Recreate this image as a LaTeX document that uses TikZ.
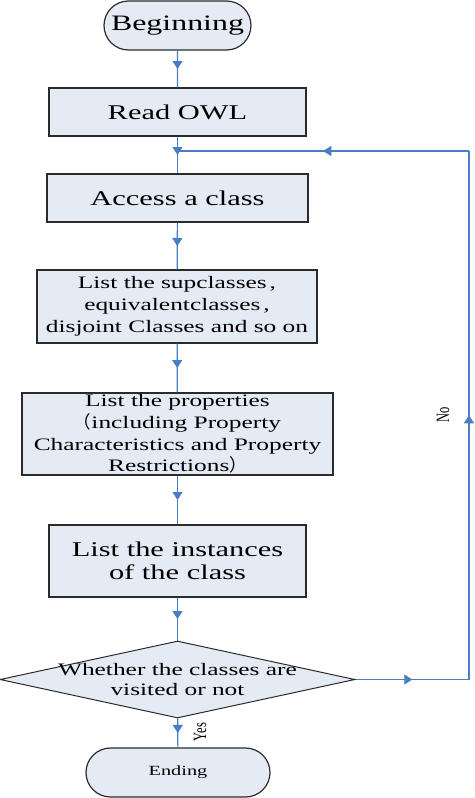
\documentclass[tikz,border=0pt]{standalone}
\usepackage{graphicx}
\usepackage{fontspec}
\setmainfont{Liberation Serif}[FakeStretch=1.45]
\newfontfamily\plainserif{Liberation Serif}
\newfontfamily\cjk{Noto Sans CJK SC}
\usetikzlibrary{shapes.geometric,shapes.misc,arrows.meta,decorations.markings}
\definecolor{boxfill}{HTML}{E4EBF5}
\definecolor{linkblue}{HTML}{4A7EC2}
\definecolor{edgegray}{HTML}{2B2B2B}
\newcommand{\vlabel}[1]{\scalebox{1.5}[1]{\rotatebox{90}{\plainserif\fontsize{12.5}{14}\selectfont #1}}}
\begin{document}
\begin{tikzpicture}[x=1pt,y=-1pt,
  procbox/.style={rectangle,draw=edgegray,fill=boxfill,line width=1.2pt,inner sep=0pt,align=center},
  termbox/.style={rounded rectangle,draw=edgegray,fill=boxfill,line width=1.2pt,inner sep=0pt},
  decbox/.style={diamond,draw=edgegray,fill=boxfill,line width=1pt,inner sep=0pt},
  link/.style={draw=linkblue,line width=1.2pt,line join=miter,postaction={decorate},
    decoration={markings,mark=at position 0.5 with {\arrow[linkblue]{Triangle[length=8pt,width=10pt]}}}},
  lbl/.style={inner sep=0pt}
]
\useasboundingbox (0,0) rectangle (474,798);

\node[termbox,minimum width=147pt,minimum height=49pt,font=\fontsize{22}{26}\selectfont] (begin) at (177.5,25.5) {Beginning};
\node[procbox,minimum width=257pt,minimum height=48pt,font=\fontsize{21}{24}\selectfont] (read) at (177.5,112) {Read OWL};
\node[procbox,minimum width=261pt,minimum height=48pt,font=\fontsize{21}{24}\selectfont] (access) at (177.5,198) {Access a class};
\node[procbox,minimum width=280pt,minimum height=73pt,font=\fontsize{17.5}{22}\selectfont] (super) at (177,306.5)
  {List the supclasses\,,\\equivalentclasses\,,\\disjoint Classes and so on};
\node[procbox,minimum width=311pt,minimum height=82pt,font=\fontsize{17.5}{21.7}\selectfont] (props) at (177.5,434)
  {List the properties\\{\cjk （}including Property\\Characteristics and Property\\Restrictions{\cjk ）}};
\node[procbox,minimum width=257pt,minimum height=72pt,font=\fontsize{21}{23.5}\selectfont] (inst) at (177.5,561)
  {List the instances\\of the class};
\node[decbox,minimum width=355pt,minimum height=77pt] (dia) at (177.5,679.5) {};
\node[align=center,inner sep=0pt,font=\fontsize{17.5}{20}\selectfont] (diatext) at (dia.center)
  {Whether the classes are\\visited or not};
\node[termbox,minimum width=184pt,minimum height=49pt,font=\fontsize{14}{16}\selectfont] (ending) at (178,772.5) {Ending};

\coordinate (j) at (177.5,151);
\coordinate (c1) at (469,679.5);
\coordinate (c2) at (469,151);

\draw[link] (begin) -- (read);
\draw[link] (read) -- (access);
\draw[link] (access) -- (super);
\draw[link] (super) -- (props);
\draw[link] (props) -- (inst);
\draw[link] (inst) -- (dia);
\draw[link] (dia) -- (ending);
\draw[link] (dia.east) -- (c1);
\draw[link] (c1) -- (c2);
\draw[link] (c2) -- (j);

\node[lbl] (yes) at (200,732) {\vlabel{Yes}};
\node[lbl] (no) at (443,415) {\vlabel{No}};
\end{tikzpicture}
\end{document}
